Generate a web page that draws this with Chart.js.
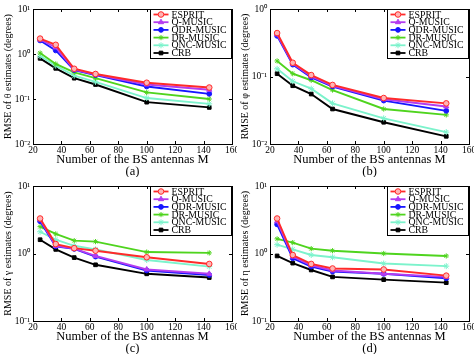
<!DOCTYPE html>
<html><head><meta charset="utf-8">
<script src="https://cdn.jsdelivr.net/npm/chart.js@4.4.1/dist/chart.umd.min.js"></script>
<style>
html,body{margin:0;padding:0;background:#fff;}
#wrap{position:relative;width:474px;height:355px;overflow:hidden;}
.p{position:absolute;width:237px;height:177px;}
</style></head><body>
<div id="wrap">
<div class="p" style="left:0;top:0"><canvas id="ca"></canvas></div>
<div class="p" style="left:237px;top:0"><canvas id="cb"></canvas></div>
<div class="p" style="left:0;top:177px"><canvas id="cc"></canvas></div>
<div class="p" style="left:237px;top:177px"><canvas id="cd"></canvas></div>
</div>
<script>
// ---- data ----
const antennas = [25, 36, 49, 64, 100, 144];
const seriesNames = ['ESPRIT', 'Q-MUSIC', 'QDR-MUSIC', 'DR-MUSIC', 'QNC-MUSIC', 'CRB'];
const xTickValues = [20, 40, 60, 80, 100, 120, 140, 160];
const xTitle = 'Number of the BS antennas M';
const panelTags = ['(a)', '(b)', '(c)', '(d)'];
const yTitles = ['RMSE of θ estimates (degrees)', 'RMSE of φ estimates (degrees)',
                 'RMSE of γ estimates (degrees)', 'RMSE of η estimates (degrees)'];

// (a) theta
const thetaESPRIT = [2.2, 1.6, 0.47, 0.36, 0.23, 0.18];
const thetaQMUSIC = [2.1, 1.4, 0.45, 0.35, 0.21, 0.16];
const thetaQDR    = [2.0, 1.2, 0.44, 0.34, 0.19, 0.13];
const thetaDR     = [1.05, 0.6, 0.39, 0.29, 0.14, 0.1];
const thetaQNC    = [0.9, 0.55, 0.33, 0.24, 0.105, 0.078];
const thetaCRB    = [0.8, 0.48, 0.29, 0.21, 0.085, 0.065];
// (b) phi
const phiESPRIT = [0.44, 0.16, 0.105, 0.075, 0.048, 0.04];
const phiQMUSIC = [0.42, 0.155, 0.1, 0.073, 0.046, 0.036];
const phiQDR    = [0.4, 0.15, 0.097, 0.071, 0.044, 0.031];
const phiDR     = [0.17, 0.11, 0.088, 0.063, 0.033, 0.027];
const phiQNC    = [0.13, 0.085, 0.066, 0.04, 0.024, 0.015];
const phiCRB    = [0.11, 0.073, 0.055, 0.033, 0.021, 0.013];
// (c) gamma
const gammaESPRIT = [3.3, 1.38, 1.2, 1.1, 0.88, 0.7];
const gammaQMUSIC = [3.2, 1.3, 1.18, 0.92, 0.58, 0.5];
const gammaQDR    = [3.0, 1.28, 1.17, 0.9, 0.56, 0.48];
const gammaDR     = [2.5, 1.95, 1.55, 1.5, 1.05, 1.02];
const gammaQNC    = [2.1, 1.6, 1.3, 1.15, 0.8, 0.64];
const gammaCRB    = [1.6, 1.15, 0.87, 0.68, 0.5, 0.44];
// (d) eta
const etaESPRIT = [3.3, 0.95, 0.7, 0.6, 0.58, 0.47];
const etaQMUSIC = [3.0, 0.9, 0.67, 0.56, 0.5, 0.45];
const etaQDR    = [2.7, 0.85, 0.64, 0.54, 0.5, 0.43];
const etaDR     = [1.65, 1.45, 1.18, 1.1, 1.0, 0.92];
const etaQNC    = [1.35, 1.15, 0.95, 0.88, 0.71, 0.65];
const etaCRB    = [0.92, 0.72, 0.57, 0.45, 0.41, 0.37];

// ---- styles ----
const seriesStyle = [
  {color: '#ff2a2a', fill: '#ffb4b4', point: 'circle',   r: 2.8},
  {color: '#b43cf0', fill: '#b43cf0', point: 'triangle', r: 3},
  {color: '#1616ff', fill: '#1616ff', point: 'circle',   r: 2.4},
  {color: '#4fd41e', fill: '#4fd41e', point: 'star',     r: 2.6},
  {color: '#7cf3cc', fill: '#7cf3cc', point: 'star',     r: 3},
  {color: '#000000', fill: '#000000', point: 'rect',     r: 2.6}
];
const SERIF = '"Liberation Serif", "Times New Roman", serif';
const sup = {'-': '⁻', '0': '⁰', '1': '¹', '2': '²', '3': '³'};

const framePlugin = {
  id: 'frame',
  afterDatasetsDraw(chart) {
    const ctx = chart.ctx, a = chart.chartArea;
    const xs = chart.scales.x, ys = chart.scales.y;
    ctx.save();
    ctx.strokeStyle = '#000'; ctx.lineWidth = 1;
    ctx.strokeRect(Math.round(a.left) + 0.5, Math.round(a.top) + 0.5,
                   Math.round(a.right - a.left), Math.round(a.bottom - a.top));
    ctx.beginPath();
    xs.ticks.forEach(t => {
      const px = Math.round(xs.getPixelForValue(t.value)) + 0.5;
      ctx.moveTo(px, a.bottom); ctx.lineTo(px, a.bottom - 3);
      ctx.moveTo(px, a.top); ctx.lineTo(px, a.top + 3);
    });
    ys.ticks.forEach(t => {
      const py = Math.round(ys.getPixelForValue(t.value)) + 0.5;
      ctx.moveTo(a.left, py); ctx.lineTo(a.left + 3, py);
      ctx.moveTo(a.right, py); ctx.lineTo(a.right - 3, py);
    });
    ctx.stroke();
    ctx.restore();
  }
};

const legendPlugin = {
  id: 'boxLegend',
  afterDraw(chart) {
    const ctx = chart.ctx, a = chart.chartArea;
    const w = 81, h = 49;
    const x0 = Math.round(a.right - w - 1) + 0.5, y0 = Math.round(a.top) + 0.5;
    ctx.save();
    ctx.fillStyle = '#fff'; ctx.fillRect(x0, y0, w, h);
    ctx.strokeStyle = '#000'; ctx.lineWidth = 1; ctx.strokeRect(x0, y0, w, h);
    chart.data.datasets.forEach((ds, i) => {
      const y = y0 + 5 + i * 7.7;
      ctx.strokeStyle = ds.borderColor; ctx.lineWidth = 1.8;
      ctx.beginPath(); ctx.moveTo(x0 + 3, y); ctx.lineTo(x0 + 18, y); ctx.stroke();
      ctx.fillStyle = ds.pointBackgroundColor; ctx.lineWidth = 1;
      Chart.helpers.drawPoint(ctx, {pointStyle: ds.pointStyle, radius: ds.pointRadius, borderWidth: 1, rotation: 0}, x0 + 10.5, y);
      ctx.fillStyle = '#000'; ctx.font = '9.8px ' + SERIF; ctx.textBaseline = 'middle'; ctx.textAlign = 'left';
      ctx.fillText(ds.label, x0 + 21, y + 0.5);
    });
    ctx.restore();
  }
};

function makeChart(id, sets, yMin, yMax, yTitle, tag) {
  const datasets = seriesNames.map((name, i) => ({
    label: name,
    data: antennas.map((m, j) => ({x: m, y: sets[i][j]})),
    borderColor: seriesStyle[i].color,
    backgroundColor: seriesStyle[i].fill,
    pointBackgroundColor: seriesStyle[i].fill,
    pointBorderColor: seriesStyle[i].color,
    pointStyle: seriesStyle[i].point,
    pointRadius: seriesStyle[i].r,
    pointBorderWidth: 1,
    borderWidth: 1.9,
    tension: 0,
    fill: false
  }));
  return new Chart(document.getElementById(id), {
    type: 'line',
    data: {datasets},
    options: {
      responsive: true, maintainAspectRatio: false, animation: false, devicePixelRatio: 1,
      layout: {padding: {top: 9, right: 5, left: 0, bottom: 0}},
      plugins: {legend: {display: false}, tooltip: {enabled: false}},
      scales: {
        x: {
          type: 'linear', min: 20, max: 160,
          afterBuildTicks: s => { s.ticks = xTickValues.map(v => ({value: v})); },
          ticks: {font: {family: SERIF, size: 9.5}, color: '#000', padding: 1, maxRotation: 0, autoSkip: false},
          grid: {display: false, drawTicks: false},
          border: {display: true, color: '#000', width: 1},
          title: {display: true, text: [xTitle, tag], color: '#000',
                  font: {family: SERIF, size: 12.5, lineHeight: 0.9}, padding: {top: 0, bottom: 0}},
          afterFit: s => { s.height = 33; s.paddingLeft = 0; s.paddingRight = 0; }
        },
        y: {
          type: 'logarithmic', min: yMin, max: yMax,
          afterBuildTicks: s => {
            const t = [];
            for (let e = Math.round(Math.log10(yMin)); e <= Math.round(Math.log10(yMax)); e++) t.push({value: Math.pow(10, e)});
            s.ticks = t;
          },
          ticks: {
            font: {family: SERIF, size: 9.5}, color: '#000', padding: 3, autoSkip: false,
            callback: v => '10' + String(Math.round(Math.log10(v))).split('').map(c => sup[c]).join('')
          },
          grid: {display: false, drawTicks: false},
          border: {display: true, color: '#000', width: 1},
          title: {display: true, text: yTitle, color: '#000', font: {family: SERIF, size: 10}, padding: {top: 2, bottom: 0}},
          afterFit: s => { s.width = 33; s.paddingTop = 0; s.paddingBottom = 0; }
        }
      }
    },
    plugins: [framePlugin, legendPlugin]
  });
}

makeChart('ca', [thetaESPRIT, thetaQMUSIC, thetaQDR, thetaDR, thetaQNC, thetaCRB], 0.01, 10, yTitles[0], panelTags[0]);
makeChart('cb', [phiESPRIT, phiQMUSIC, phiQDR, phiDR, phiQNC, phiCRB], 0.01, 1, yTitles[1], panelTags[1]);
makeChart('cc', [gammaESPRIT, gammaQMUSIC, gammaQDR, gammaDR, gammaQNC, gammaCRB], 0.1, 10, yTitles[2], panelTags[2]);
makeChart('cd', [etaESPRIT, etaQMUSIC, etaQDR, etaDR, etaQNC, etaCRB], 0.1, 10, yTitles[3], panelTags[3]);
</script>
</body></html>
